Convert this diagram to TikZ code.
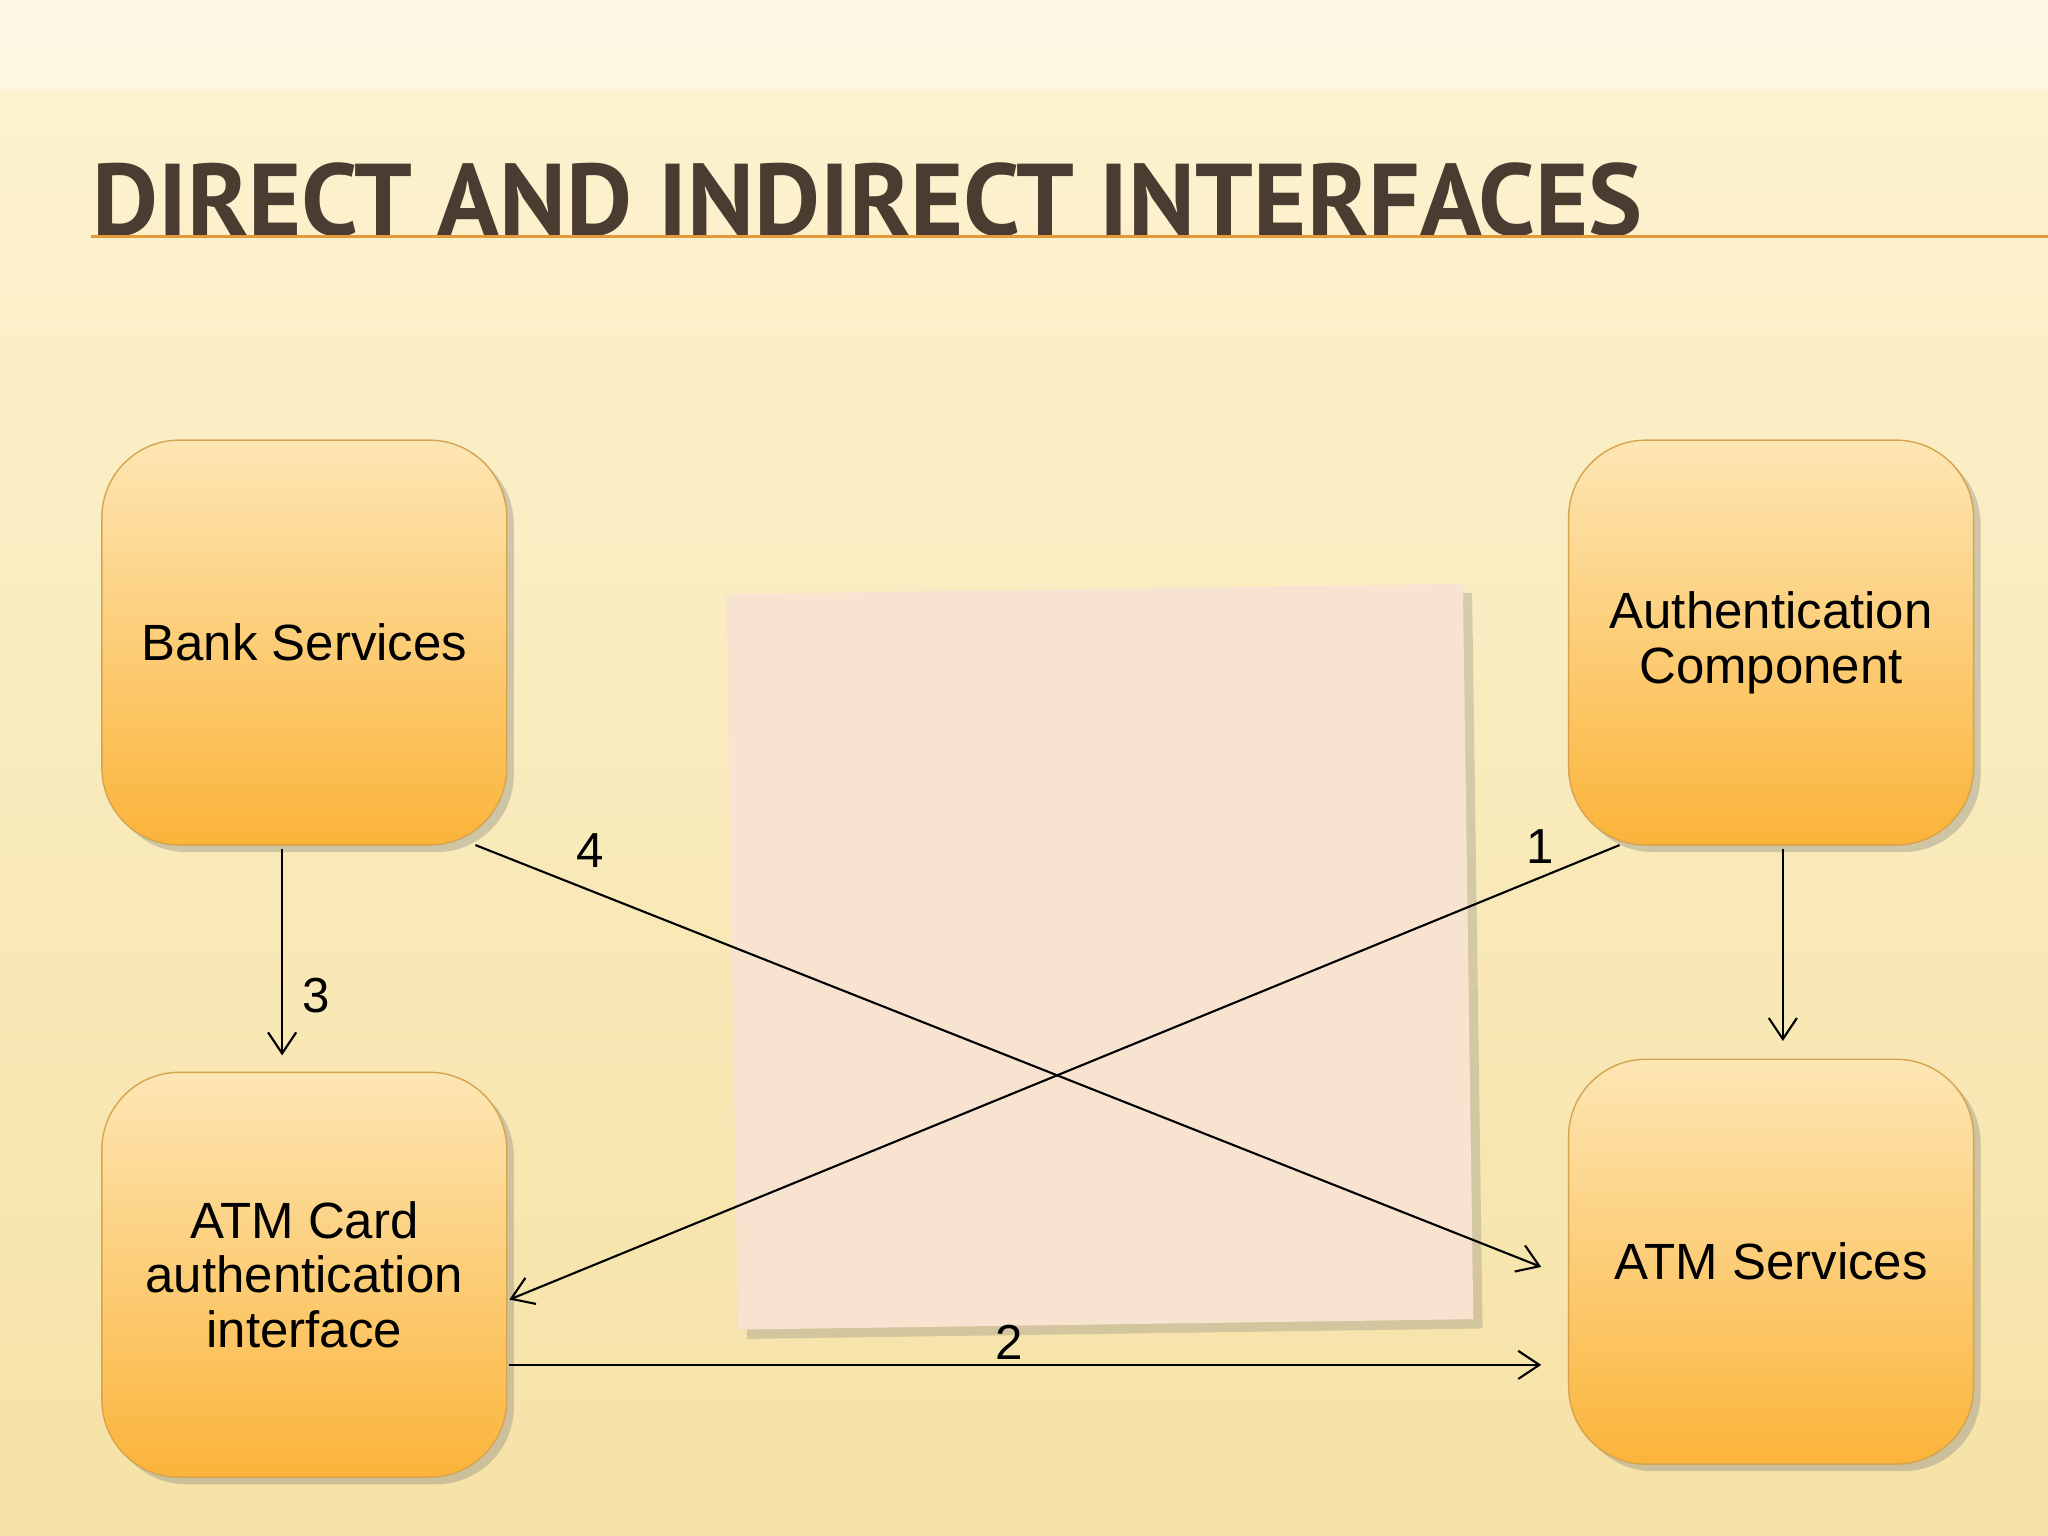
\documentclass[tikz,border=0pt]{standalone}
\usepackage{fontspec}
\setmainfont{Liberation Sans}
\newfontfamily\titlefont{PT Sans}
\usetikzlibrary{arrows.meta,shadows}
\definecolor{bgtop}{HTML}{FDF3D2}
\definecolor{bgbot}{HTML}{F6E2A6}
\definecolor{boxtop}{HTML}{FDE6B4}
\definecolor{boxbot}{HTML}{FBB43A}
\definecolor{titlecol}{HTML}{4A3C30}
\definecolor{rulecol}{HTML}{E49A3A}
\definecolor{paper}{HTML}{F7E3D0}
\begin{document}
\begin{tikzpicture}[x=0.013061cm,y=-0.013061cm,
  box/.style={rounded corners=22pt,draw=boxbot!70!gray,line width=0.4pt,top color=boxtop,bottom color=boxbot,
    minimum width=310*0.013061cm,minimum height=310*0.013061cm,align=center,font=\fontsize{14.5}{15.5}\selectfont,
    drop shadow={opacity=0.35,shadow xshift=2pt,shadow yshift=-2pt}},
  arr/.style={-{Straight Barb[length=6pt,width=8pt]},line width=0.6pt},
  lab/.style={font=\fontsize{14}{15}\selectfont}]
\useasboundingbox (0,0) rectangle (1568,1176);
\shade[top color=bgtop,bottom color=bgbot] (0,0) rectangle (1568,1176);
\fill[white,opacity=0.4] (0,0) rectangle (1568,70);
\node[anchor=base west,inner sep=0,text=titlecol,font=\titlefont\bfseries\fontsize{29}{30}\selectfont,xscale=1.0] (title) at (70,180) {DIRECT AND INDIRECT INTERFACES};
\draw[rulecol,line width=1pt] (70,181) -- (1568,181);
\fill[paper,drop shadow={opacity=0.3}] (556,455) -- (1120,447) -- (1128,1010) -- (565,1018) -- cycle;
\node[box] (bank) at (233,492) {Bank Services};
\node[box] (auth) at (1356,492) {Authentication\\Component};
\node[box] (card) at (233,976) {ATM Card\\authentication\\interface};
\node[box] (atm) at (1356,966) {ATM Services};
\coordinate (b3) at (216,650); \coordinate (e3) at (216,808);
\coordinate (a5) at (1365,650); \coordinate (e5) at (1365,797);
\coordinate (b4) at (364,647); \coordinate (e4) at (1180,970);
\coordinate (a1) at (1240,647); \coordinate (e1) at (390,995);
\coordinate (c2) at (390,1045); \coordinate (e2) at (1180,1045);
\draw[arr] (b3) -- (e3);
\draw[arr] (a5) -- (e5);
\draw[arr] (b4) -- (e4);
\draw[arr] (a1) -- (e1);
\draw[arr] (c2) -- (e2);
\node[lab] (l3) at (242,762) {3};
\node[lab] (l4) at (452,651) {4};
\node[lab] (l1) at (1179,648) {1};
\node[lab] (l2) at (773,1028) {2};
\end{tikzpicture}
\end{document}
